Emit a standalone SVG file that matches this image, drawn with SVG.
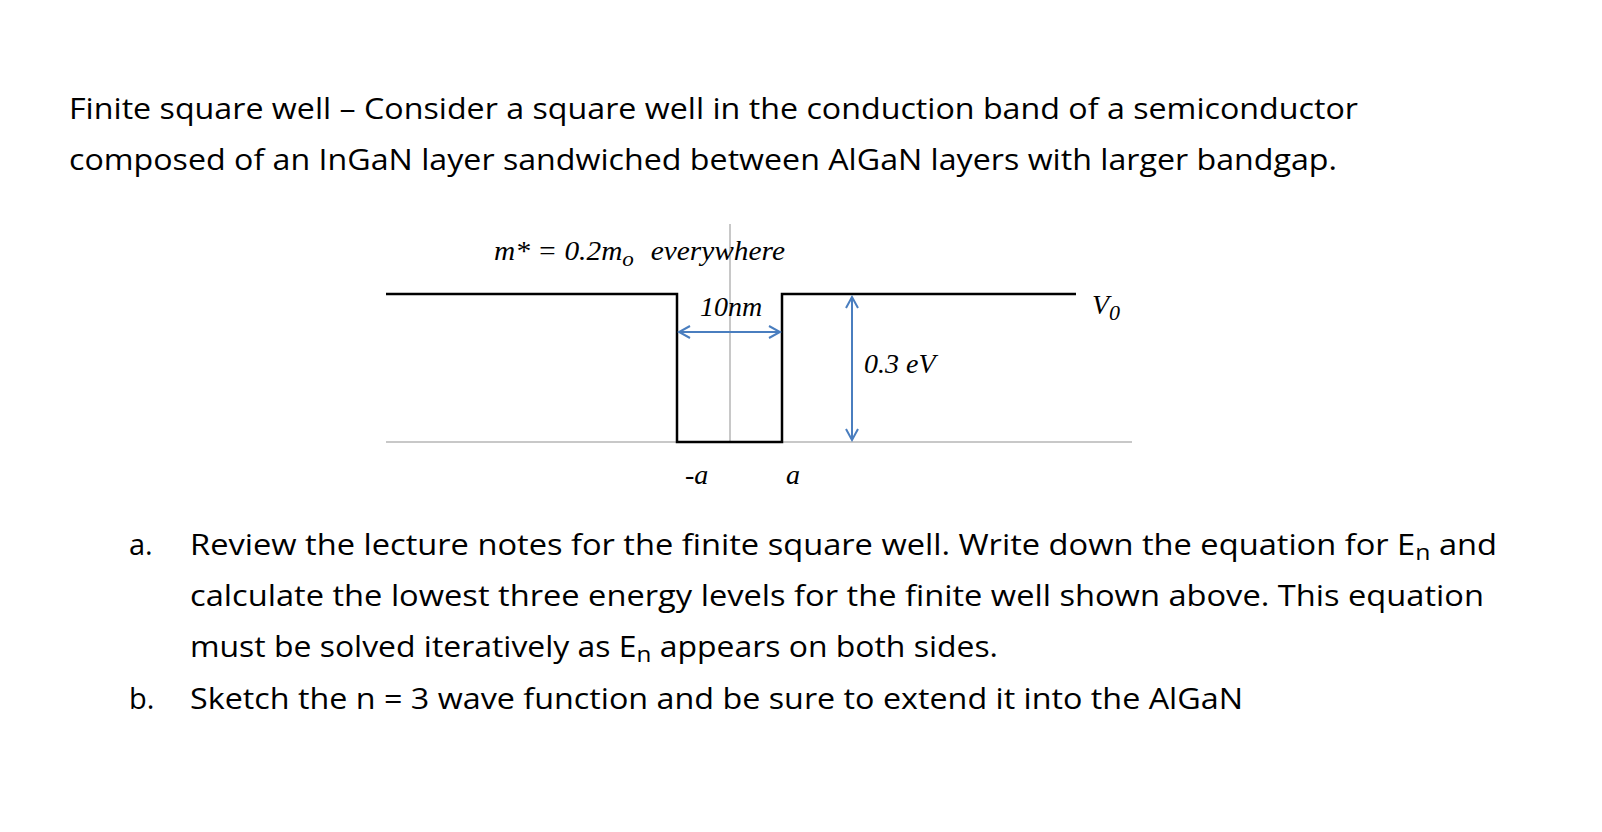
<svg xmlns="http://www.w3.org/2000/svg" width="1602" height="832" viewBox="0 0 1602 832">
<style>
.t{font-family:"Open Sans","Liberation Sans",sans-serif;font-size:29px;fill:#000}
.m{font-family:"Liberation Serif",serif;font-style:italic;font-size:28px;fill:#000}
.s{font-size:22px}
.blk{stroke:#000;stroke-width:2.5;fill:none}
.gry{stroke:#c8c8c8;stroke-width:2;fill:none}
.blu{stroke:#4a7ebf;stroke-width:2;fill:none}
</style>
<defs>
<marker id="ah" markerWidth="14" markerHeight="14" refX="12" refY="7" orient="auto-start-reverse" markerUnits="userSpaceOnUse">
<path d="M1,1 L12,7 L1,13" fill="none" stroke="#4a7ebf" stroke-width="2"/>
</marker>
</defs>
<rect width="1602" height="832" fill="#fff"/>
<g id="title">
<text class="t" x="69" y="119" textLength="1289" lengthAdjust="spacingAndGlyphs">Finite square well – Consider a square well in the conduction band of a semiconductor</text>
<text class="t" x="69" y="170" textLength="1268" lengthAdjust="spacingAndGlyphs">composed of an InGaN layer sandwiched between AlGaN layers with larger bandgap.</text>
</g>
<g id="diagram">
<line class="gry" x1="386" y1="442" x2="1132" y2="442"/>
<line class="gry" x1="730" y1="224" x2="730" y2="442"/>
<path class="blk" d="M386,294 H677 V442 H782 V294 H1076"/>
<text class="m" x="494" y="260" textLength="291" lengthAdjust="spacingAndGlyphs">m* = 0.2m<tspan class="s" dy="6">o</tspan><tspan dy="-6" dx="16">everywhere</tspan></text>
<text class="m" x="731" y="316" text-anchor="middle">10nm</text>
<text class="m" x="864" y="373">0.3 eV</text>
<text class="m" x="1092" y="314">V<tspan class="s" dy="6">0</tspan></text>
<text class="m" x="685" y="484">-a</text>
<text class="m" x="786" y="484">a</text>
</g>
<g id="connectors">
<line class="blu" x1="679" y1="332" x2="780" y2="332" marker-start="url(#ah)" marker-end="url(#ah)"/>
<line class="blu" x1="852" y1="297" x2="852" y2="440" marker-start="url(#ah)" marker-end="url(#ah)"/>
</g>
<g id="questions">
<text class="t" x="129" y="555">a.</text>
<text class="t" x="190" y="555" textLength="1307" lengthAdjust="spacingAndGlyphs">Review the lecture notes for the finite square well.  Write down the equation for E<tspan class="s" dy="5">n</tspan><tspan dy="-5"> and</tspan></text>
<text class="t" x="190" y="606" textLength="1294" lengthAdjust="spacingAndGlyphs">calculate the lowest three energy levels for the finite well shown above.  This equation</text>
<text class="t" x="190" y="657" textLength="808" lengthAdjust="spacingAndGlyphs">must be solved iteratively as E<tspan class="s" dy="5">n</tspan><tspan dy="-5"> appears on both sides.</tspan></text>
<text class="t" x="129" y="709">b.</text>
<text class="t" x="190" y="709" textLength="1053" lengthAdjust="spacingAndGlyphs">Sketch the n = 3 wave function and be sure to extend it into the AlGaN</text>
</g>
</svg>
